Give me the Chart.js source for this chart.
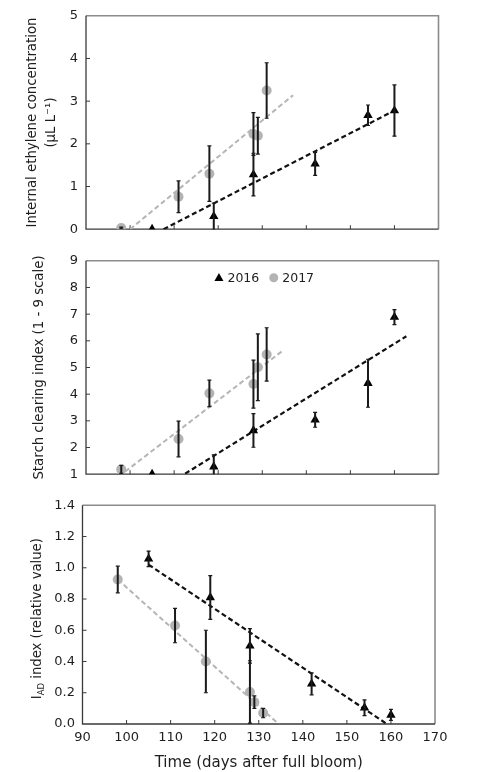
<!DOCTYPE html>
<html><head><meta charset="utf-8">
<script src="https://cdn.jsdelivr.net/npm/chart.js@4"></script>
<style>
html,body{margin:0;padding:0;background:#fff;}
#wrap{position:relative;width:486px;height:772px;overflow:hidden;}
.p{position:absolute;left:0;width:486px;}
</style></head><body>
<div id="wrap">
<div class="p" style="top:0;height:245px"><canvas id="c1" width="486" height="245"></canvas></div>
<div class="p" style="top:245px;height:245px"><canvas id="c2" width="486" height="245"></canvas></div>
<div class="p" style="top:490px;height:282px"><canvas id="c3" width="486" height="282"></canvas></div>
</div>
<script>
// ---- data ----
const days2016 = [105, 119, 128, 142, 154, 160];
const days2017 = [98, 111, 118, 128, 129, 131];

const ethylene2016 = [0.0, 0.30, 1.28, 1.53, 2.67, 2.78];
const ethyleneErr2016 = [0, 0.31, 0.5, 0.27, 0.24, 0.6];
const ethylene2017 = [0.03, 0.76, 1.30, 2.23, 2.19, 3.25];
const ethyleneErr2017 = [0.02, 0.37, 0.65, 0.5, 0.43, 0.65];

const starch2016 = [1.0, 1.28, 2.64, 3.04, 4.41, 6.89];
const starchErr2016 = [0, 0.45, 0.63, 0.28, 0.9, 0.28];
const starch2017 = [1.18, 2.32, 4.03, 4.38, 5.01, 5.49];
const starchErr2017 = [0.15, 0.67, 0.5, 0.9, 1.25, 1.0];

const iad2016 = [1.057, 0.81, 0.50, 0.257, 0.104, 0.058];
const iadErr2016 = [0.05, 0.14, 0.11, 0.07, 0.05, 0.035];
const iad2017 = [0.925, 0.63, 0.40, 0.205, 0.14, 0.07];
const iadErr2017 = [0.085, 0.11, 0.2, 0.2, 0.04, 0.03];

// fitted trend lines (start/end)
const ethTrendX2016 = [107.6, 160], ethTrendY2016 = [0, 2.78];
const ethTrendX2017 = [100, 137], ethTrendY2017 = [0, 3.14];
const starchTrendX2016 = [112.5, 162.7], starchTrendY2016 = [1.02, 6.17];
const starchTrendX2017 = [98.9, 134.8], starchTrendY2017 = [1.1, 5.65];
const iadTrendX2016 = [105, 159.1], iadTrendY2016 = [1.02, 0];
const iadTrendX2017 = [98, 134.5], iadTrendY2017 = [0.925, 0];

const xTicks = [90, 100, 110, 120, 130, 140, 150, 160, 170];
const ethTicks = [0, 1, 2, 3, 4, 5];
const starchTicks = [1, 2, 3, 4, 5, 6, 7, 8, 9];
const iadTicks = ['0.0', '0.2', '0.4', '0.6', '0.8', '1.0', '1.2', '1.4'];

const seriesLabels = ['2016', '2017'];
const xTitle = 'Time (days after full bloom)';
const ethTitle = ['Internal ethylene concentration', '(\u00B5L L\u207B\u00B9)'];
const starchTitle = 'Starch clearing index (1 - 9 scale)';

// ---- helpers ----
const pts = (xs, ys) => xs.map((x, i) => ({x: x, y: ys[i]}));
const BLACK = '#000000', GREY = '#b3b3b3', GREY_LINE = '#b5b5b5', TXT = '#1e1e1e';
const FAM = "'DejaVu Sans', Verdana, sans-serif";
Chart.defaults.font.family = FAM;
Chart.defaults.font.size = 13;
Chart.defaults.color = TXT;
Chart.defaults.devicePixelRatio = 1;

function makeDatasets(d16, e16, d17, e17, tx16, ty16, tx17, ty17) {
  return [
    {label: seriesLabels[0], data: pts(days2016, d16), errors: e16, pointStyle: 'triangle',
     pointRadius: 5.4, backgroundColor: BLACK, borderColor: BLACK, borderWidth: 0, order: 1},
    {label: seriesLabels[1], data: pts(days2017, d17), errors: e17, pointStyle: 'circle',
     pointRadius: 5, backgroundColor: GREY, borderColor: GREY, borderWidth: 0, order: 2},
    {label: 'trend2016', data: pts(tx16, ty16), showLine: true, pointRadius: 0, borderColor: '#111',
     borderWidth: 2.2, borderDash: [5, 3], fill: false, order: 3},
    {label: 'trend2017', data: pts(tx17, ty17), showLine: true, pointRadius: 0, borderColor: GREY_LINE,
     borderWidth: 2, borderDash: [5, 3], fill: false, order: 4}
  ];
}

function drawMarker(ctx, style, cx, cy, r) {
  ctx.beginPath();
  if (style === 'triangle') {
    for (let k = 0; k < 3; k++) {
      const ang = k * 2 * Math.PI / 3;
      const px = cx + Math.sin(ang) * r, py = cy - Math.cos(ang) * r;
      if (k === 0) ctx.moveTo(px, py); else ctx.lineTo(px, py);
    }
    ctx.closePath();
  } else {
    ctx.arc(cx, cy, r, 0, 2 * Math.PI);
  }
  ctx.fill();
}

const framePlugin = {
  id: 'frame',
  beforeDatasetsDraw(chart) {
    const {ctx, chartArea: a, scales: {x, y}} = chart;
    ctx.save();
    ctx.strokeStyle = '#8c8c8c'; ctx.lineWidth = 1.6;
    ctx.beginPath(); ctx.moveTo(a.left, a.top); ctx.lineTo(a.right, a.top); ctx.lineTo(a.right, a.bottom); ctx.stroke();
    ctx.strokeStyle = '#3a3a3a'; ctx.lineWidth = 1.3;
    ctx.beginPath(); ctx.moveTo(a.left, a.top); ctx.lineTo(a.left, a.bottom); ctx.lineTo(a.right, a.bottom); ctx.stroke();
    ctx.lineWidth = 1;
    ctx.beginPath();
    xTicks.forEach(v => {
      const px = x.getPixelForValue(v);
      if (px <= a.left + 1 || px >= a.right - 1) return;
      ctx.moveTo(px, a.bottom); ctx.lineTo(px, a.bottom - 4);
    });
    y.ticks.forEach(t => {
      const py = y.getPixelForValue(t.value);
      if (py <= a.top + 1 || py >= a.bottom - 1) return;
      ctx.moveTo(a.left, py); ctx.lineTo(a.left + 4, py);
    });
    ctx.stroke();
    ctx.restore();
  }
};

const errorPlugin = {
  id: 'errbars',
  afterDatasetsDraw(chart) {
    const {ctx, chartArea: a, scales: {x, y}} = chart;
    ctx.save();
    ctx.beginPath(); ctx.rect(a.left, a.top - 3, a.right - a.left, a.bottom - a.top + 3); ctx.clip();
    ctx.strokeStyle = '#1a1a1a';
    chart.data.datasets.forEach(ds => {
      if (!ds.errors) return;
      ds.data.forEach((p, j) => {
        const e = ds.errors[j];
        if (!e) return;
        const px = x.getPixelForValue(p.x);
        const y1 = y.getPixelForValue(p.y - e), y2 = y.getPixelForValue(p.y + e);
        ctx.lineWidth = 2;
        ctx.beginPath(); ctx.moveTo(px, y1); ctx.lineTo(px, y2); ctx.stroke();
        ctx.lineWidth = 1.2;
        ctx.beginPath();
        ctx.moveTo(px - 2, y1); ctx.lineTo(px + 2, y1);
        ctx.moveTo(px - 2, y2); ctx.lineTo(px + 2, y2);
        ctx.stroke();
      });
    });
    ctx.restore();
  }
};

const legendPlugin = {
  id: 'innerLegend',
  afterDraw(chart) {
    const {ctx, chartArea: a} = chart;
    const items = chart.data.datasets.filter(d => seriesLabels.includes(d.label));
    ctx.save();
    ctx.font = '12.5px ' + FAM;
    ctx.textBaseline = 'middle';
    ctx.textAlign = 'left';
    const sym = 9, gapSym = 4, gapItem = 10;
    const widths = items.map(d => sym + gapSym + ctx.measureText(d.label).width);
    const total = widths.reduce((s, w) => s + w, 0) + gapItem * (items.length - 1);
    let x = (a.left + a.right) / 2 + 2 - total / 2;
    const y = a.top + 17;
    items.forEach((d, i) => {
      ctx.fillStyle = d.backgroundColor;
      if (d.pointStyle === 'triangle') drawMarker(ctx, 'triangle', x + sym / 2, y + 0.5, 5.2);
      else drawMarker(ctx, 'circle', x + sym / 2, y, 4.5);
      ctx.fillStyle = TXT;
      ctx.fillText(d.label, x + sym + gapSym, y + 0.5);
      x += widths[i] + gapItem;
    });
    ctx.restore();
  }
};

const iadTitlePlugin = {
  id: 'iadTitle',
  afterDraw(chart) {
    const {ctx, chartArea: a} = chart;
    ctx.save();
    ctx.translate(37.5, (a.top + a.bottom) / 2 + 4);
    ctx.rotate(-Math.PI / 2);
    ctx.fillStyle = TXT;
    ctx.textBaseline = 'middle';
    const big = '13.2px ' + FAM;
    const small = '8.5px ' + FAM;
    const parts = [['I', big, 0], ['AD', small, 4], [' index (relative value)', big, 0]];
    let w = 0;
    parts.forEach(p => { ctx.font = p[1]; w += ctx.measureText(p[0]).width; });
    let cx = -w / 2;
    parts.forEach(p => { ctx.font = p[1]; ctx.fillText(p[0], cx, p[2]); cx += ctx.measureText(p[0]).width; });
    ctx.restore();
  }
};

const xScaleHidden = {type: 'linear', min: 90, max: 170, display: false};

// Panel 1: ethylene
new Chart(document.getElementById('c1'), {
  type: 'scatter',
  data: {datasets: makeDatasets(ethylene2016, ethyleneErr2016, ethylene2017, ethyleneErr2017,
        ethTrendX2016, ethTrendY2016, ethTrendX2017, ethTrendY2017)},
  options: {
    responsive: false, animation: false,
    layout: {padding: {left: 0, right: 47.5, top: 15, bottom: 10.5}},
    plugins: {legend: {display: false}, tooltip: {enabled: false}},
    scales: {
      x: xScaleHidden,
      y: {min: 0, max: 5, afterBuildTicks: s => { s.ticks = ethTicks.map(v => ({value: v})); },
          grid: {display: false, drawTicks: false}, border: {display: false},
          ticks: {padding: 8, callback: v => String(v)},
          title: {display: true, text: ethTitle, font: {size: 13.3, lineHeight: 1.43}, padding: {top: 23.5, bottom: 0}},
          afterFit: s => { s.width = 86; }}
    }
  },
  plugins: [framePlugin, errorPlugin]
});

// Panel 2: starch
new Chart(document.getElementById('c2'), {
  type: 'scatter',
  data: {datasets: makeDatasets(starch2016, starchErr2016, starch2017, starchErr2017,
        starchTrendX2016, starchTrendY2016, starchTrendX2017, starchTrendY2017)},
  options: {
    responsive: false, animation: false,
    layout: {padding: {left: 0, right: 47.5, top: 12.5, bottom: 10}},
    plugins: {legend: {display: false}, tooltip: {enabled: false}},
    scales: {
      x: xScaleHidden,
      y: {min: 1, max: 9, afterBuildTicks: s => { s.ticks = starchTicks.map(v => ({value: v})); },
          grid: {display: false, drawTicks: false}, border: {display: false},
          ticks: {padding: 8, callback: v => String(v)},
          title: {display: true, text: starchTitle, font: {size: 13.3}, padding: {top: 32, bottom: 0}},
          afterFit: s => { s.width = 86; }}
    }
  },
  plugins: [framePlugin, errorPlugin, legendPlugin]
});

// Panel 3: IAD
new Chart(document.getElementById('c3'), {
  type: 'scatter',
  data: {datasets: makeDatasets(iad2016, iadErr2016, iad2017, iadErr2017,
        iadTrendX2016, iadTrendY2016, iadTrendX2017, iadTrendY2017)},
  options: {
    responsive: false, animation: false,
    layout: {padding: {left: 0, right: 51, top: 11, bottom: 0}},
    plugins: {legend: {display: false}, tooltip: {enabled: false}},
    scales: {
      x: {type: 'linear', min: 90, max: 170,
          afterBuildTicks: s => { s.ticks = xTicks.map(v => ({value: v})); },
          grid: {display: false, drawTicks: false}, border: {display: false},
          ticks: {padding: 5.5, maxRotation: 0, callback: v => String(v)},
          title: {display: true, text: xTitle, font: {size: 15}, padding: {top: 0, bottom: 0}},
          afterFit: s => { s.height = 48; }},
      y: {min: 0, max: 1.4,
          afterBuildTicks: s => { s.ticks = iadTicks.map(v => ({value: parseFloat(v)})); },
          grid: {display: false, drawTicks: false}, border: {display: false},
          ticks: {padding: 7.5, callback: (v, i) => iadTicks[i]},
          title: {display: false},
          afterFit: s => { s.width = 82.5; }}
    }
  },
  plugins: [framePlugin, errorPlugin, iadTitlePlugin]
});
</script>
</body></html>
